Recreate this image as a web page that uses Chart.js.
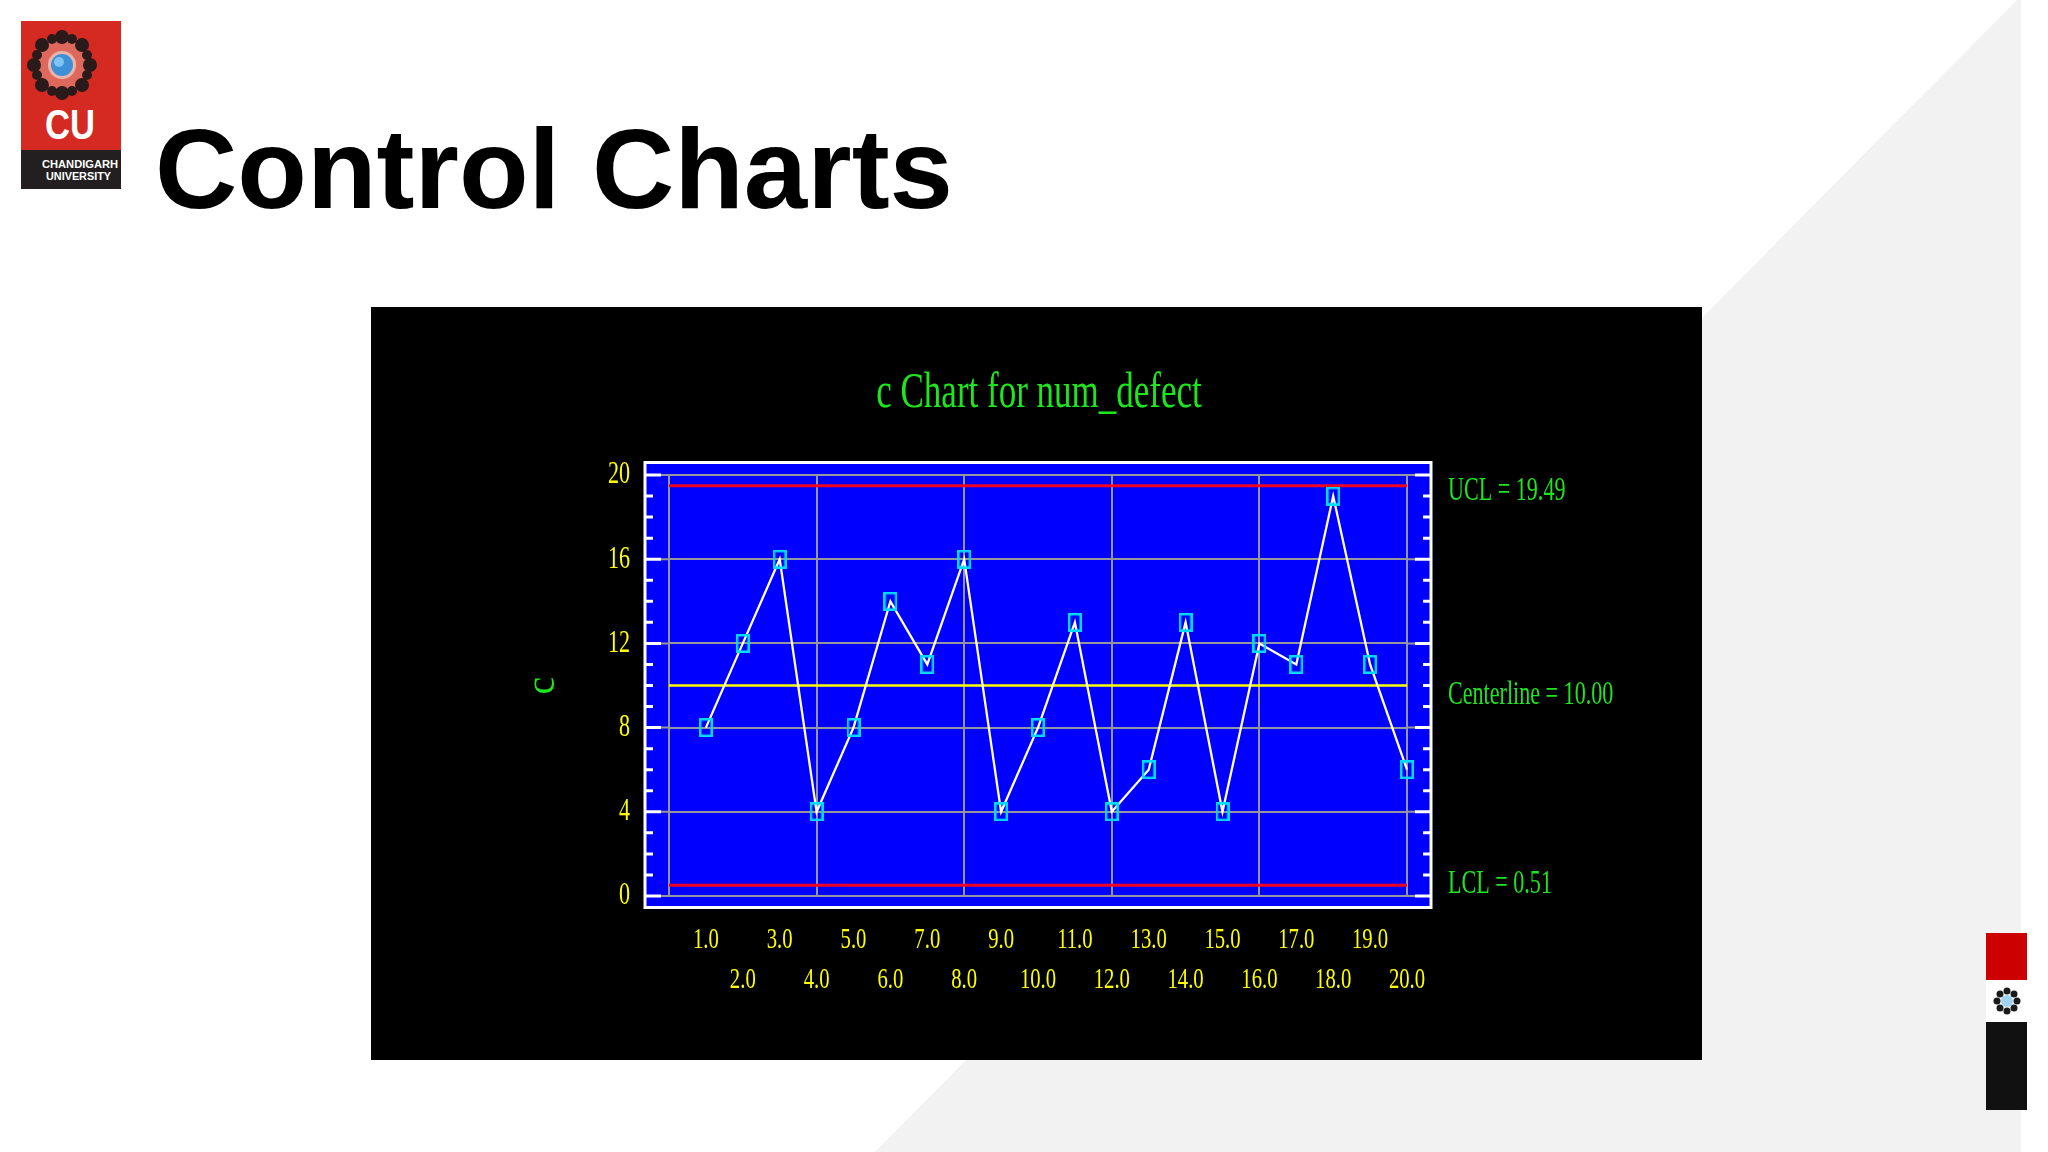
<!DOCTYPE html>
<html>
<head>
<meta charset="utf-8">
<script src="https://cdn.jsdelivr.net/npm/chart.js@4.4.1/dist/chart.umd.min.js"></script>
<style>
  html, body { margin:0; padding:0; width:2048px; height:1152px; overflow:hidden; background:#ffffff; }
  #slide { position:absolute; left:0; top:0; }
  #wrap { position:absolute; left:371px; top:307px; width:1331px; height:753px; background:#000; }
  #chart { display:block; }
</style>
</head>
<body>
<svg id="slide" width="2048" height="1152" viewBox="0 0 2048 1152" xmlns="http://www.w3.org/2000/svg">
  <rect x="0" y="0" width="2048" height="1152" fill="#ffffff"/>
  <polygon points="2017,0 2021,0 2021,1152 875,1152" fill="#f2f2f2"/>
  <!-- logo -->
  <g transform="translate(21,21)">
    <rect x="0" y="0" width="100" height="130" fill="#d42a22"/>
    <rect x="0" y="129" width="100" height="39" fill="#231f20"/>
    <circle cx="41" cy="44" r="30" fill="#e89a8e" opacity="0.55"/>
    <g fill="#2a1a1a">
      <circle cx="41" cy="16" r="7"/><circle cx="61" cy="24" r="7"/><circle cx="69" cy="44" r="7"/>
      <circle cx="61" cy="64" r="7"/><circle cx="41" cy="72" r="7"/><circle cx="21" cy="64" r="7"/>
      <circle cx="13" cy="44" r="7"/><circle cx="21" cy="24" r="7"/>
      <circle cx="51" cy="18" r="5"/><circle cx="66" cy="34" r="5"/><circle cx="66" cy="54" r="5"/>
      <circle cx="51" cy="70" r="5"/><circle cx="31" cy="70" r="5"/><circle cx="16" cy="54" r="5"/>
      <circle cx="16" cy="34" r="5"/><circle cx="31" cy="18" r="5"/>
    </g>
    <circle cx="41" cy="44" r="14" fill="#e9b4aa"/>
    <circle cx="41" cy="44" r="11" fill="#3d8fd6"/>
    <circle cx="38" cy="41" r="5" fill="#7fc3f0"/>
    <text x="24" y="118" fill="#ffffff" font-family="Liberation Sans, Arial, sans-serif" font-weight="bold" font-size="42" textLength="50" lengthAdjust="spacingAndGlyphs">CU</text>
    <text x="21" y="147" fill="#ffffff" font-family="Liberation Sans, Arial, sans-serif" font-weight="bold" font-size="11" textLength="76" lengthAdjust="spacingAndGlyphs">CHANDIGARH</text>
    <text x="25" y="159" fill="#ffffff" font-family="Liberation Sans, Arial, sans-serif" font-weight="bold" font-size="11" textLength="65" lengthAdjust="spacingAndGlyphs">UNIVERSITY</text>
  </g>
  <text x="155" y="208" fill="#000000" font-family="Liberation Sans, Arial, sans-serif" font-weight="bold" font-size="114">Control Charts</text>
  <!-- right side icons -->
  <rect x="1986" y="980" width="41" height="42" fill="#ffffff"/>
  <rect x="1986" y="933" width="41" height="47" fill="#cc0000"/>
  <g fill="#1a1a1a">
    <circle cx="2007" cy="991" r="3.5"/><circle cx="2014" cy="994" r="3.5"/><circle cx="2017" cy="1001" r="3.5"/>
    <circle cx="2014" cy="1008" r="3.5"/><circle cx="2007" cy="1011" r="3.5"/><circle cx="2000" cy="1008" r="3.5"/>
    <circle cx="1997" cy="1001" r="3.5"/><circle cx="2000" cy="994" r="3.5"/>
  </g>
  <circle cx="2007" cy="1001" r="6" fill="#9fd3f0"/>
  <rect x="1986" y="1022" width="41" height="88" fill="#111111"/>
</svg>

<div id="wrap"><canvas id="chart" width="1331" height="753"></canvas></div>

<script>
// ---------------- data ----------------
const sampleNumbers = [1, 2, 3, 4, 5, 6, 7, 8, 9, 10, 11, 12, 13, 14, 15, 16, 17, 18, 19, 20];
const defectCounts  = [8, 12, 16, 4, 8, 14, 11, 16, 4, 8, 13, 4, 6, 13, 4, 12, 11, 19, 11, 6];
const xTickLabels   = ['1.0','2.0','3.0','4.0','5.0','6.0','7.0','8.0','9.0','10.0',
                       '11.0','12.0','13.0','14.0','15.0','16.0','17.0','18.0','19.0','20.0'];
const yTickValues   = [0, 4, 8, 12, 16, 20];
const xAxisRange    = [0, 20];
const yAxisRange    = [0, 20];
const uclValue      = 19.49;
const centerValue   = 10.00;
const lclValue      = 0.51;
const limitLabels   = ['UCL = 19.49', 'Centerline = 10.00', 'LCL = 0.51'];
const chartTitle    = 'c Chart for num_defect';
const yAxisTitle    = 'c';

// ---------------- styling helpers ----------------
const GREEN  = '#1ee61e';
const YELLOW = '#ffff00';
const SERIF  = '"Liberation Serif", "Times New Roman", serif';
const GRID   = '#9696a0';

function condText(ctx, txt, x, y, size, color, align, sx, baseline) {
  ctx.save();
  ctx.translate(x, y);
  ctx.scale(sx, 1);
  ctx.font = size + 'px ' + SERIF;
  ctx.fillStyle = color;
  ctx.textAlign = align;
  ctx.textBaseline = baseline || 'middle';
  ctx.fillText(txt, 0, 0);
  ctx.restore();
}

// hollow cyan rectangle marker
const marker = document.createElement('canvas');
marker.width = 14; marker.height = 19;
(function () {
  const m = marker.getContext('2d');
  m.strokeStyle = '#00dcff';
  m.lineWidth = 2.5;
  m.strokeRect(1.25, 1.25, 11.5, 16.5);
})();

const decor = {
  id: 'decor',
  beforeDraw(chart) {
    const { ctx, chartArea: a, width, height } = chart;
    ctx.save();
    ctx.fillStyle = '#000000';
    ctx.fillRect(0, 0, width, height);
    const fl = a.left - 24, fr = a.right + 24, ft = a.top - 12.5, fb = a.bottom + 11.5;
    ctx.fillStyle = '#0000ff';
    ctx.fillRect(fl, ft, fr - fl, fb - ft);
    ctx.restore();
  },
  beforeDatasetsDraw(chart) {
    const { ctx, chartArea: a, scales } = chart;
    const ys = scales.y;
    const fl = a.left - 24, fr = a.right + 24, ft = a.top - 12.5, fb = a.bottom + 11.5;
    ctx.save();
    // grid extensions toward the tick marks
    ctx.strokeStyle = GRID;
    ctx.lineWidth = 2;
    yTickValues.forEach(v => {
      const py = ys.getPixelForValue(v);
      ctx.beginPath();
      ctx.moveTo(fl + 15, py); ctx.lineTo(a.left, py);
      ctx.moveTo(a.right, py); ctx.lineTo(fr - 15, py);
      ctx.stroke();
    });
    // tick marks (major every 4, minor every 1) on both sides
    ctx.strokeStyle = '#ffffff';
    ctx.lineWidth = 3;
    for (let v = yAxisRange[0]; v <= yAxisRange[1]; v++) {
      const py = ys.getPixelForValue(v);
      const len = yTickValues.includes(v) ? 16 : 8;
      ctx.beginPath();
      ctx.moveTo(fl, py); ctx.lineTo(fl + len, py);
      ctx.moveTo(fr - len, py); ctx.lineTo(fr, py);
      ctx.stroke();
    }
    // frame
    ctx.lineWidth = 3;
    ctx.strokeRect(fl, ft, fr - fl, fb - ft);
    ctx.restore();
  },
  afterDraw(chart) {
    const { ctx, chartArea: a, scales } = chart;
    const xs = scales.x, ys = scales.y;
    // chart title
    condText(ctx, chartTitle, (a.left + a.right) / 2 + 1, a.top - 68, 50, GREEN, 'center', 0.70, 'alphabetic');
    // y tick labels
    yTickValues.forEach(v => {
      condText(ctx, String(v), a.left - 39, ys.getPixelForValue(v), 32, YELLOW, 'right', 0.69, 'middle');
    });
    // x tick labels, alternating rows
    sampleNumbers.forEach((n, i) => {
      const row = i % 2 === 0 ? 44 : 84;
      condText(ctx, xTickLabels[i], xs.getPixelForValue(n), a.bottom + row, 30, YELLOW, 'center', 0.69, 'middle');
    });
    // limit labels
    const lx = a.right + 41;
    condText(ctx, limitLabels[0], lx, ys.getPixelForValue(uclValue) + 14.5, 33, GREEN, 'left', 0.67, 'alphabetic');
    condText(ctx, limitLabels[1], lx, ys.getPixelForValue(centerValue) + 18, 33, GREEN, 'left', 0.67, 'alphabetic');
    condText(ctx, limitLabels[2], lx, ys.getPixelForValue(lclValue) + 7.5, 33, GREEN, 'left', 0.67, 'alphabetic');
    // y axis title (rotated)
    ctx.save();
    ctx.translate(a.left - 126, (a.top + a.bottom) / 2);
    ctx.rotate(-Math.PI / 2);
    ctx.font = '40px ' + SERIF;
    ctx.fillStyle = GREEN;
    ctx.textAlign = 'center';
    ctx.textBaseline = 'middle';
    ctx.fillText(yAxisTitle, 0, 0);
    ctx.restore();
  }
};

const pts = sampleNumbers.map((n, i) => ({ x: n, y: defectCounts[i] }));
const hLine = v => [{ x: xAxisRange[0], y: v }, { x: xAxisRange[1], y: v }];

new Chart(document.getElementById('chart'), {
  type: 'scatter',
  data: {
    datasets: [
      {
        label: 'num_defect',
        data: pts,
        showLine: true,
        borderColor: '#ffffff',
        borderWidth: 2.3,
        pointStyle: marker,
        pointRadius: 7,
        clip: false
      },
      {
        label: 'UCL',
        data: hLine(uclValue),
        showLine: true,
        borderColor: '#f00020',
        borderWidth: 3,
        pointRadius: 0
      },
      {
        label: 'Centerline',
        data: hLine(centerValue),
        showLine: true,
        borderColor: '#ffff00',
        borderWidth: 2.5,
        pointRadius: 0
      },
      {
        label: 'LCL',
        data: hLine(lclValue),
        showLine: true,
        borderColor: '#f00020',
        borderWidth: 3,
        pointRadius: 0
      }
    ]
  },
  options: {
    responsive: false,
    animation: false,
    events: [],
    layout: { padding: { left: 298, right: 295, top: 168, bottom: 164 } },
    plugins: { legend: { display: false }, tooltip: { enabled: false }, title: { display: false } },
    scales: {
      x: {
        type: 'linear',
        min: xAxisRange[0], max: xAxisRange[1],
        ticks: { display: false, stepSize: 4 },
        grid: { color: GRID, lineWidth: 2, drawTicks: false },
        border: { display: false },
        afterFit(s) { s.height = 0; }
      },
      y: {
        type: 'linear',
        min: yAxisRange[0], max: yAxisRange[1],
        ticks: { display: false, stepSize: 4 },
        grid: { color: GRID, lineWidth: 2, drawTicks: false },
        border: { display: false },
        afterFit(s) { s.width = 0; }
      }
    }
  },
  plugins: [decor]
});
</script>
</body>
</html>
